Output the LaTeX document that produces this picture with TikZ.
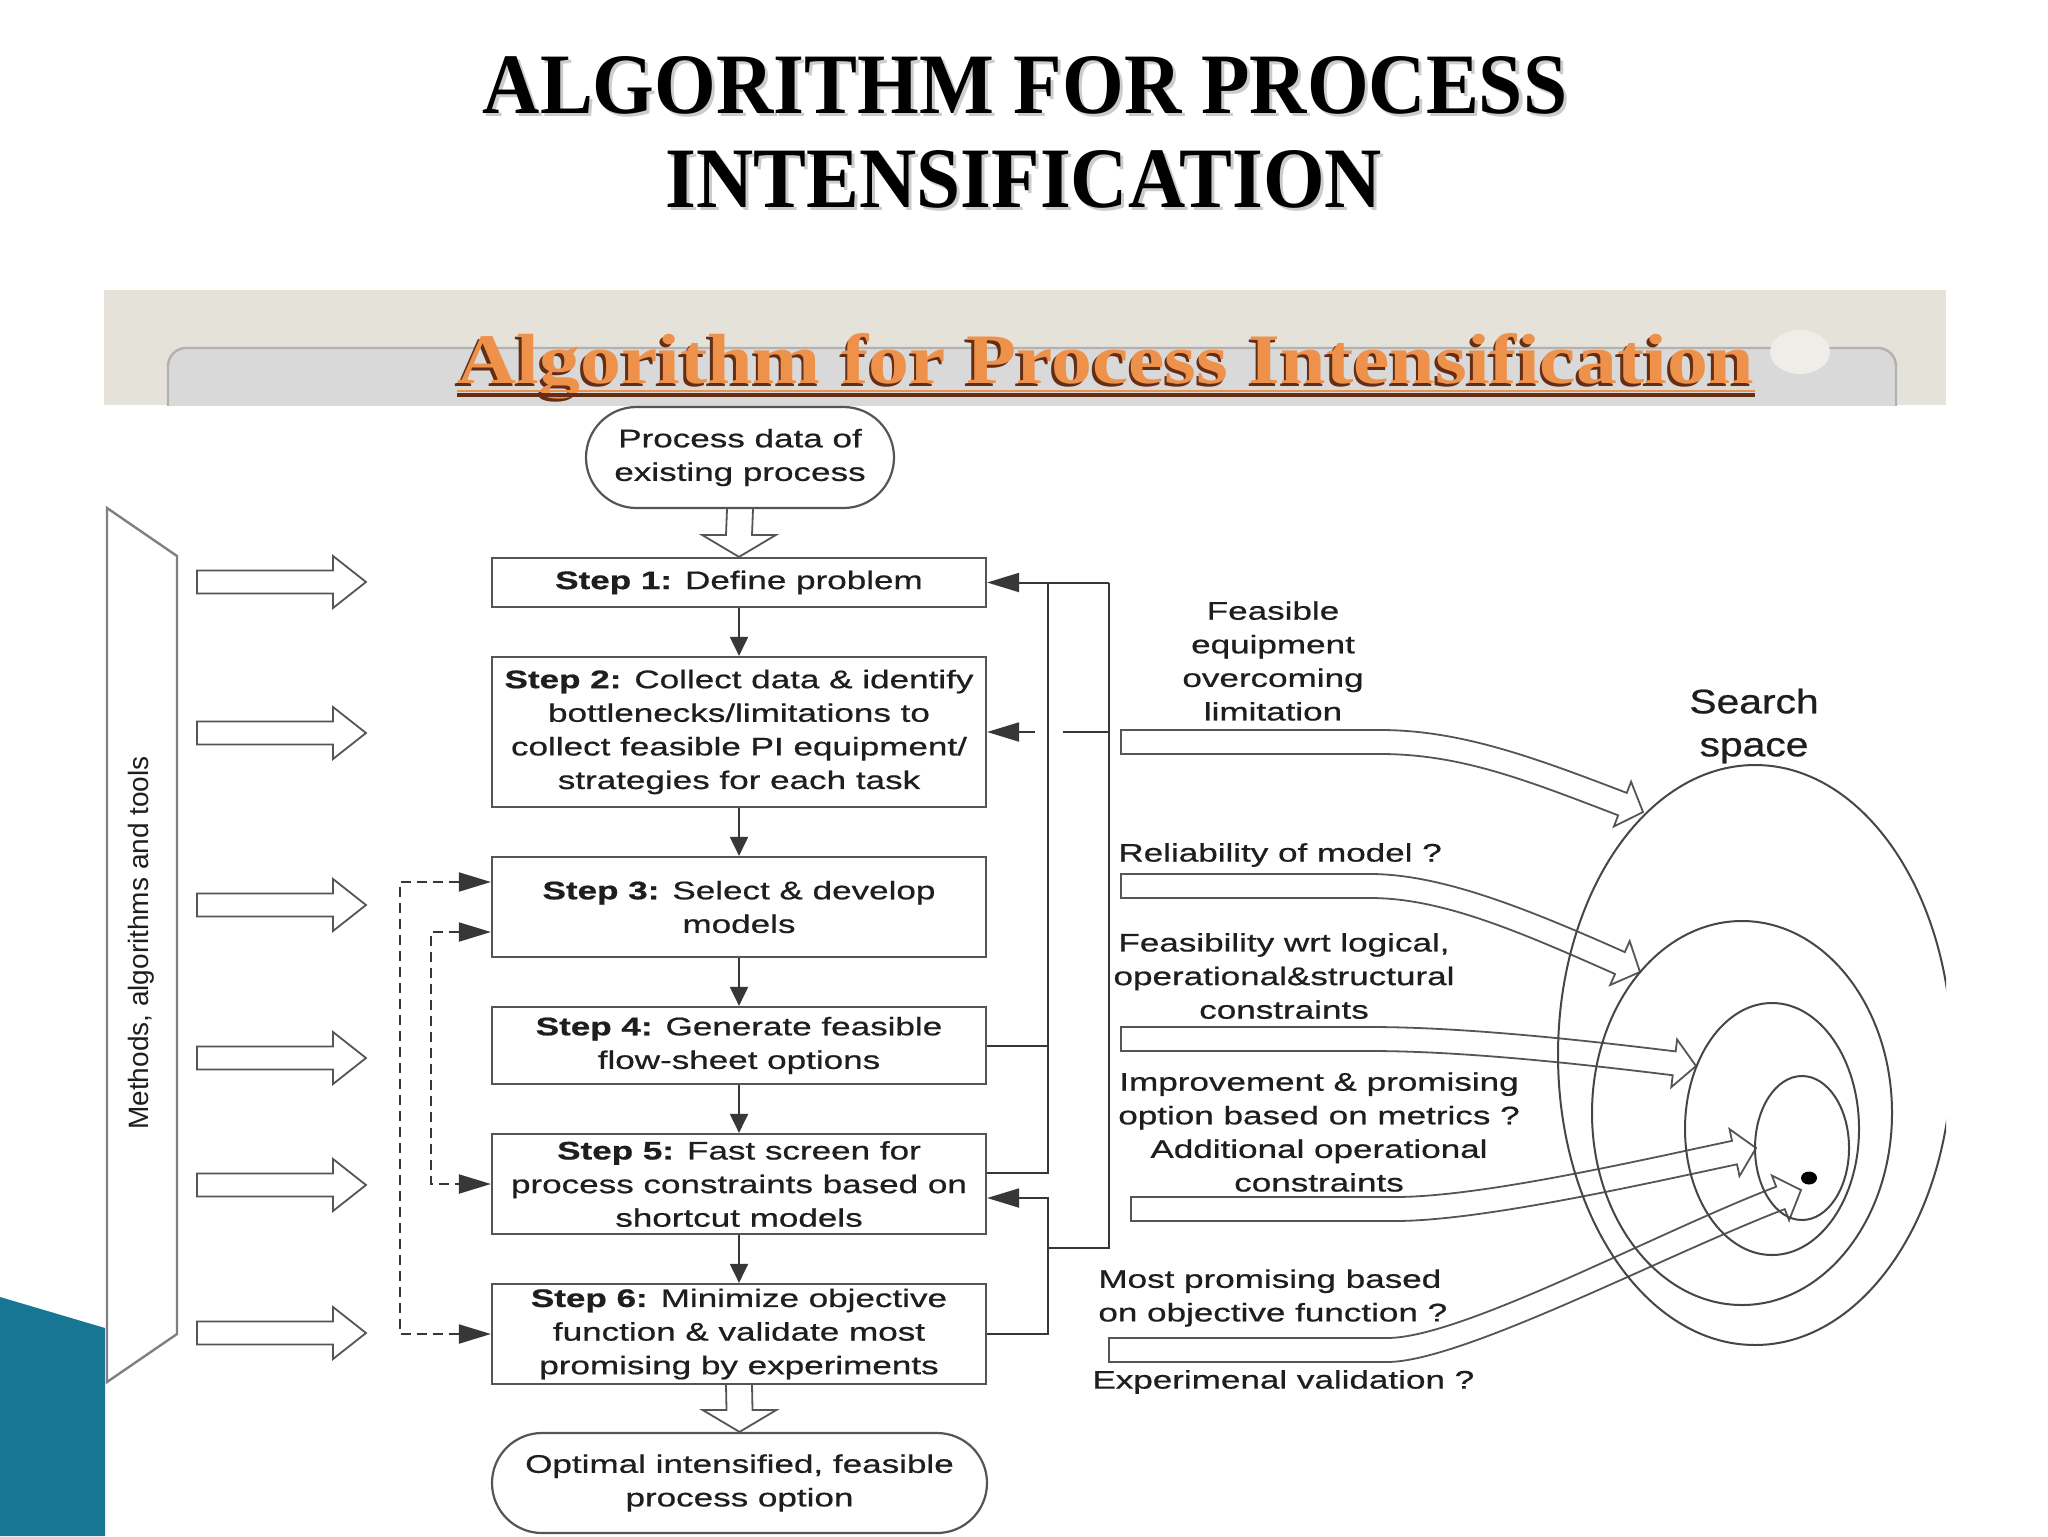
\documentclass[tikz,border=0pt]{standalone}
\usepackage{fontspec}
\setmainfont{Liberation Sans}
\newfontfamily\lab{Liberation Sans}[FakeStretch=1.38,FakeBold=0.7]
\newfontfamily\labw{Liberation Sans}[FakeStretch=1.2,FakeBold=0.7]
\newfontfamily\tnr{Liberation Serif}
\usetikzlibrary{arrows.meta,shapes.misc,calc}
\newdimen\pxu \pxu=0.5pt
\newcommand\labsize{\fontsize{12.7pt}{16.8pt}\selectfont}
\definecolor{ln}{RGB}{55,55,55}
\definecolor{bx}{RGB}{85,85,85}
\definecolor{txt}{RGB}{30,30,30}
\definecolor{bandc}{RGB}{229,226,217}
\definecolor{innerc}{RGB}{217,217,217}
\definecolor{orng}{RGB}{238,145,75}
\definecolor{brwn}{RGB}{100,45,20}
\definecolor{tealc}{RGB}{22,118,148}
\definecolor{holc}{RGB}{85,85,85}
\definecolor{ellc}{RGB}{70,70,70}
\definecolor{blobc}{RGB}{240,236,231}
\tikzset{
 stepbox/.style={draw=bx, line width=1.1pt, fill=white, minimum width=494\pxu, inner sep=0pt, align=center, font=\lab\labsize, text=txt},
 ovalbox/.style={rounded rectangle, draw=bx, line width=1.1pt, fill=white, inner sep=0pt, align=center, font=\lab\labsize, text=txt},
 flowarr/.style={draw=ln, line width=1pt, -{Triangle[length=9.5pt,width=9pt]}},
 fline/.style={draw=ln, line width=1pt},
 fbtip/.style={-{Triangle[length=16pt,width=9.5pt]}},
 dline/.style={draw=ln, line width=1pt, dash pattern=on 5pt off 3pt},
 hol/.style={draw=holc, line width=0.9pt, line join=miter},
 ell/.style={draw=ellc, line width=1pt},
 lbl/.style={font=\lab\labsize, text=txt, inner sep=0pt},
}
\newcommand{\bendarrow}[8]{%
  \coordinate (bT) at (#6,#7);
  \coordinate (bH) at ($(bT)+(#8+180:22)$);
  \draw[hol] (#1,#2-12) -- (#3,#2-12)
    .. controls (#3+#4,#2-12) and ($(bH)+(#8+180:#5)+(#8-90:12)$) .. ($(bH)+(#8-90:12)$)
    -- ($(bH)+(#8-90:24)$) -- (bT) -- ($(bH)+(#8+90:24)$) -- ($(bH)+(#8+90:12)$)
    .. controls ($(bH)+(#8+180:#5)+(#8+90:12)$) and (#3+#4,#2+12) .. (#3,#2+12)
    -- (#1,#2+12) -- cycle;
}
\begin{document}
\begin{tikzpicture}[x=0.5pt,y=-0.5pt]
\useasboundingbox (0,0) rectangle (2048,1536);
\fill[white] (0,0) rectangle (2048,1536);
% teal corner
\fill[tealc] (0,1297) -- (105,1328) -- (105,1536) -- (0,1536) -- cycle;
% slide title
\node[anchor=base, inner sep=0, text=gray!40] (t1s) at (1028,116) {\resizebox{542pt}{28.5pt}{\tnr\bfseries ALGORITHM FOR PROCESS}};
\node[anchor=base, inner sep=0, text=black] (t1) at (1025,113) {\resizebox{542pt}{28.5pt}{\tnr\bfseries ALGORITHM FOR PROCESS}};
\node[anchor=base, inner sep=0, text=gray!40] (t2s) at (1027,210) {\resizebox{358pt}{28.5pt}{\tnr\bfseries INTENSIFICATION}};
\node[anchor=base, inner sep=0, text=black] (t2) at (1024,207) {\resizebox{358pt}{28.5pt}{\tnr\bfseries INTENSIFICATION}};
% band
\fill[bandc] (104,290) rectangle (1946,405);
\begin{scope}
\clip (104,290) rectangle (1946,405);
\draw[draw=gray!60, line width=1.2pt, fill=innerc, rounded corners=9pt] (168,348) rectangle (1896,470);
\end{scope}
\fill[blobc] (1800,352) ellipse [x radius=30, y radius=22];
\node[anchor=base west, inner sep=0, text=brwn] (bts) at (454.5,386) {\resizebox{648pt}{25pt}{\tnr\bfseries Algorithm for Process Intensification}};
\node[anchor=base west, inner sep=0, text=orng] (bt) at (457,383) {\resizebox{648pt}{25pt}{\tnr\bfseries Algorithm for Process Intensification}};
\draw[brwn, line width=2pt] (457,395) -- (1755,395);
\draw[orng, line width=1pt] (457,390.5) -- (1755,390.5);
% methods trapezoid
\draw[draw=gray, fill=white, line width=1.2pt] (107,508) -- (177,556) -- (177,1334) -- (107,1382) -- cycle;
\node[rotate=90, inner sep=0, font=\fontsize{14}{14}\selectfont, text=txt] (mth) at (141,943) {Methods, algorithms and tools};
% left hollow arrows
\foreach \yy in {582,733,905,1058,1185,1333} {
 \draw[hol] (197,\yy-11.5) -- (333,\yy-11.5) -- (333,\yy-26) -- (366,\yy) -- (333,\yy+26) -- (333,\yy+11.5) -- (197,\yy+11.5) -- cycle;
}
% flowchart
\node[ovalbox, minimum width=308\pxu, minimum height=101\pxu] (in) at (740,457.5) {Process data of\\existing process};
\node[stepbox, minimum height=49\pxu] (s1) at (739,582.5) {\textbf{Step 1:} Define problem};
\node[stepbox, minimum height=150\pxu] (s2) at (739,732) {\textbf{Step 2:} Collect data \& identify\\bottlenecks/limitations to\\collect feasible PI equipment/\\strategies for each task};
\node[stepbox, minimum height=100\pxu] (s3) at (739,907) {\textbf{Step 3:} Select \& develop\\models};
\node[stepbox, minimum height=77\pxu] (s4) at (739,1045.5) {\textbf{Step 4:} Generate feasible\\flow-sheet options};
\node[stepbox, minimum height=100\pxu] (s5) at (739,1184) {\textbf{Step 5:} Fast screen for\\process constraints based on\\shortcut models};
\node[stepbox, minimum height=100\pxu] (s6) at (739,1334) {\textbf{Step 6:} Minimize objective\\function \& validate most\\promising by experiments};
\node[ovalbox, minimum width=495\pxu, minimum height=100\pxu] (out) at (739.5,1483) {Optimal intensified, feasible\\process option};
\draw[flowarr] (s1.south) -- (s2.north);
\draw[flowarr] (s2.south) -- (s3.north);
\draw[flowarr] (s3.south) -- (s4.north);
\draw[flowarr] (s4.south) -- (s5.north);
\draw[flowarr] (s5.south) -- (s6.north);
% hollow vertical arrows
\draw[hol] ($(in.south)+(-13,0)$) -- ($(s1.north)+(-13,-22)$) -- ($(s1.north)+(-37,-22)$) -- (s1.north) -- ($(s1.north)+(37,-22)$) -- ($(s1.north)+(13,-22)$) -- ($(in.south)+(13,0)$);
\draw[hol] ($(s6.south)+(-13,0)$) -- ($(out.north)+(-13,-22)$) -- ($(out.north)+(-37,-22)$) -- (out.north) -- ($(out.north)+(37,-22)$) -- ($(out.north)+(13,-22)$) -- ($(s6.south)+(13,0)$);
% right feedback lines
\coordinate (oTop) at (1109,582.5);
\coordinate (oBot) at (1109,1248);
\coordinate (iTop) at (1048,582.5);
\coordinate (iBot) at (1048,1173);
\coordinate (lTop) at (1048,1198);
\draw[fline, fbtip] (oTop) -- (s1.east);
\draw[fline] (oTop) -- (oBot) -- (1048,1248);
\draw[fline] (iTop) -- (iBot) -- (s5.east |- iBot);
\draw[fline] (s4.east) -- (s4.east -| iTop);
\draw[fline, fbtip] (s6.east) -- (s6.east -| lTop) -- (lTop) -- (s5.east |- lTop);
\draw[fline] (oTop |- s2.east) -- (1063,732);
\draw[fline, fbtip] (1035,732) -- (s2.east);
% left dashed feedback
\draw[dline, {Triangle[length=16pt,width=9.5pt]}-{Triangle[length=16pt,width=9.5pt]}] ($(s3.west)+(0,-25)$) -- (400,882) -- (400,1334) -- (s6.west);
\draw[dline, {Triangle[length=16pt,width=9.5pt]}-{Triangle[length=16pt,width=9.5pt]}] ($(s3.west)+(0,25)$) -- (431,932) -- (431,1184) -- (s5.west);
% labels
\node[lbl, align=center] (feq) at (1273,661) {Feasible\\equipment\\overcoming\\limitation};
\node[lbl, anchor=west] (rel) at (1118,855) {Reliability of model ?};
\node[lbl, align=center] (fwl) at (1284,976) {Feasibility wrt logical,\\operational\&structural\\constraints};
\node[lbl, align=center] (imp) at (1319,1132) {Improvement \& promising\\option based on metrics ?\\Additional operational\\constraints};
\node[lbl, align=left, anchor=west] (mpb) at (1098,1298) {Most promising based\\on objective function ?};
\node[lbl, anchor=west] (exv) at (1092,1382) {Experimenal validation ?};
\node[inner sep=0, align=center, font=\labw\fontsize{17pt}{21.5pt}\selectfont, text=txt] (ssp) at (1754,726) {Search\\space};
% curved hollow arrows
\bendarrow{1121}{742}{1380}{80}{100}{1643}{812}{21}
\bendarrow{1121}{886}{1370}{70}{110}{1640}{972}{24}
\bendarrow{1121}{1039}{1370}{90}{100}{1696}{1066}{7}
\bendarrow{1131}{1209}{1395}{85}{100}{1756}{1148}{-12}
\bendarrow{1109}{1350}{1387}{75}{130}{1801}{1190}{-21}
% search space ellipses
\begin{scope}
\clip (1500,700) rectangle (1946,1420);
\draw[ell] (1755,1055) ellipse [x radius=197, y radius=290];
\end{scope}
\draw[ell] (1742,1113) ellipse [x radius=150, y radius=192];
\draw[ell] (1772,1129) ellipse [x radius=87, y radius=126];
\draw[ell] (1802,1148) ellipse [x radius=47, y radius=72];
\fill[black] (1809,1178) ellipse [x radius=8, y radius=6.5];
\end{tikzpicture}
\end{document}
